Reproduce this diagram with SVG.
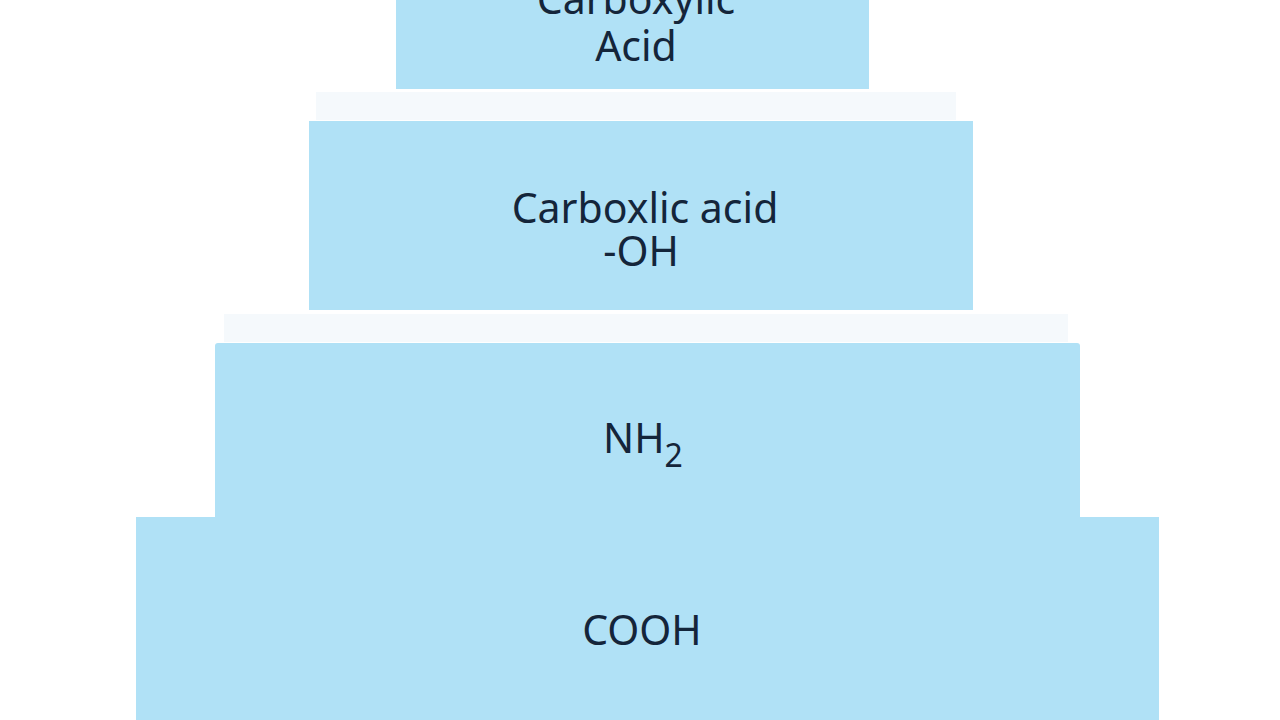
<svg xmlns="http://www.w3.org/2000/svg" width="1280" height="720" viewBox="0 0 1280 720">
<style>
.box{fill:#b0e1f6;}
.band{fill:#f5f9fc;}
.t{font-family:"Noto Sans","Open Sans",sans-serif;font-size:41px;fill:#14253a;text-anchor:middle;}
</style>
<rect width="1280" height="720" fill="#ffffff"/>
<rect class="band" x="316" y="92" width="640" height="28"/>
<rect class="band" x="224" y="314" width="844" height="28"/>
<g id="level1">
<rect class="box" x="396" y="0" width="473" height="89"/>
<text class="t" x="636" y="14">Carboxylic</text>
<text class="t" x="636" y="61">Acid</text>
</g>
<g id="level2">
<rect class="box" x="309" y="121" width="664" height="189"/>
<text class="t" x="645" y="223">Carboxlic acid</text>
<text class="t" x="641" y="266">-OH</text>
</g>
<g id="level3">
<rect class="box" x="215" y="343" width="865" height="180" rx="3"/>
<text class="t" x="643" y="453">NH<tspan font-size="32" dy="14">2</tspan></text>
</g>
<g id="level4">
<rect class="box" x="136" y="517" width="1023" height="203"/>
<text class="t" x="642" y="645">COOH</text>
</g>
<g id="connectors"></g>
</svg>
